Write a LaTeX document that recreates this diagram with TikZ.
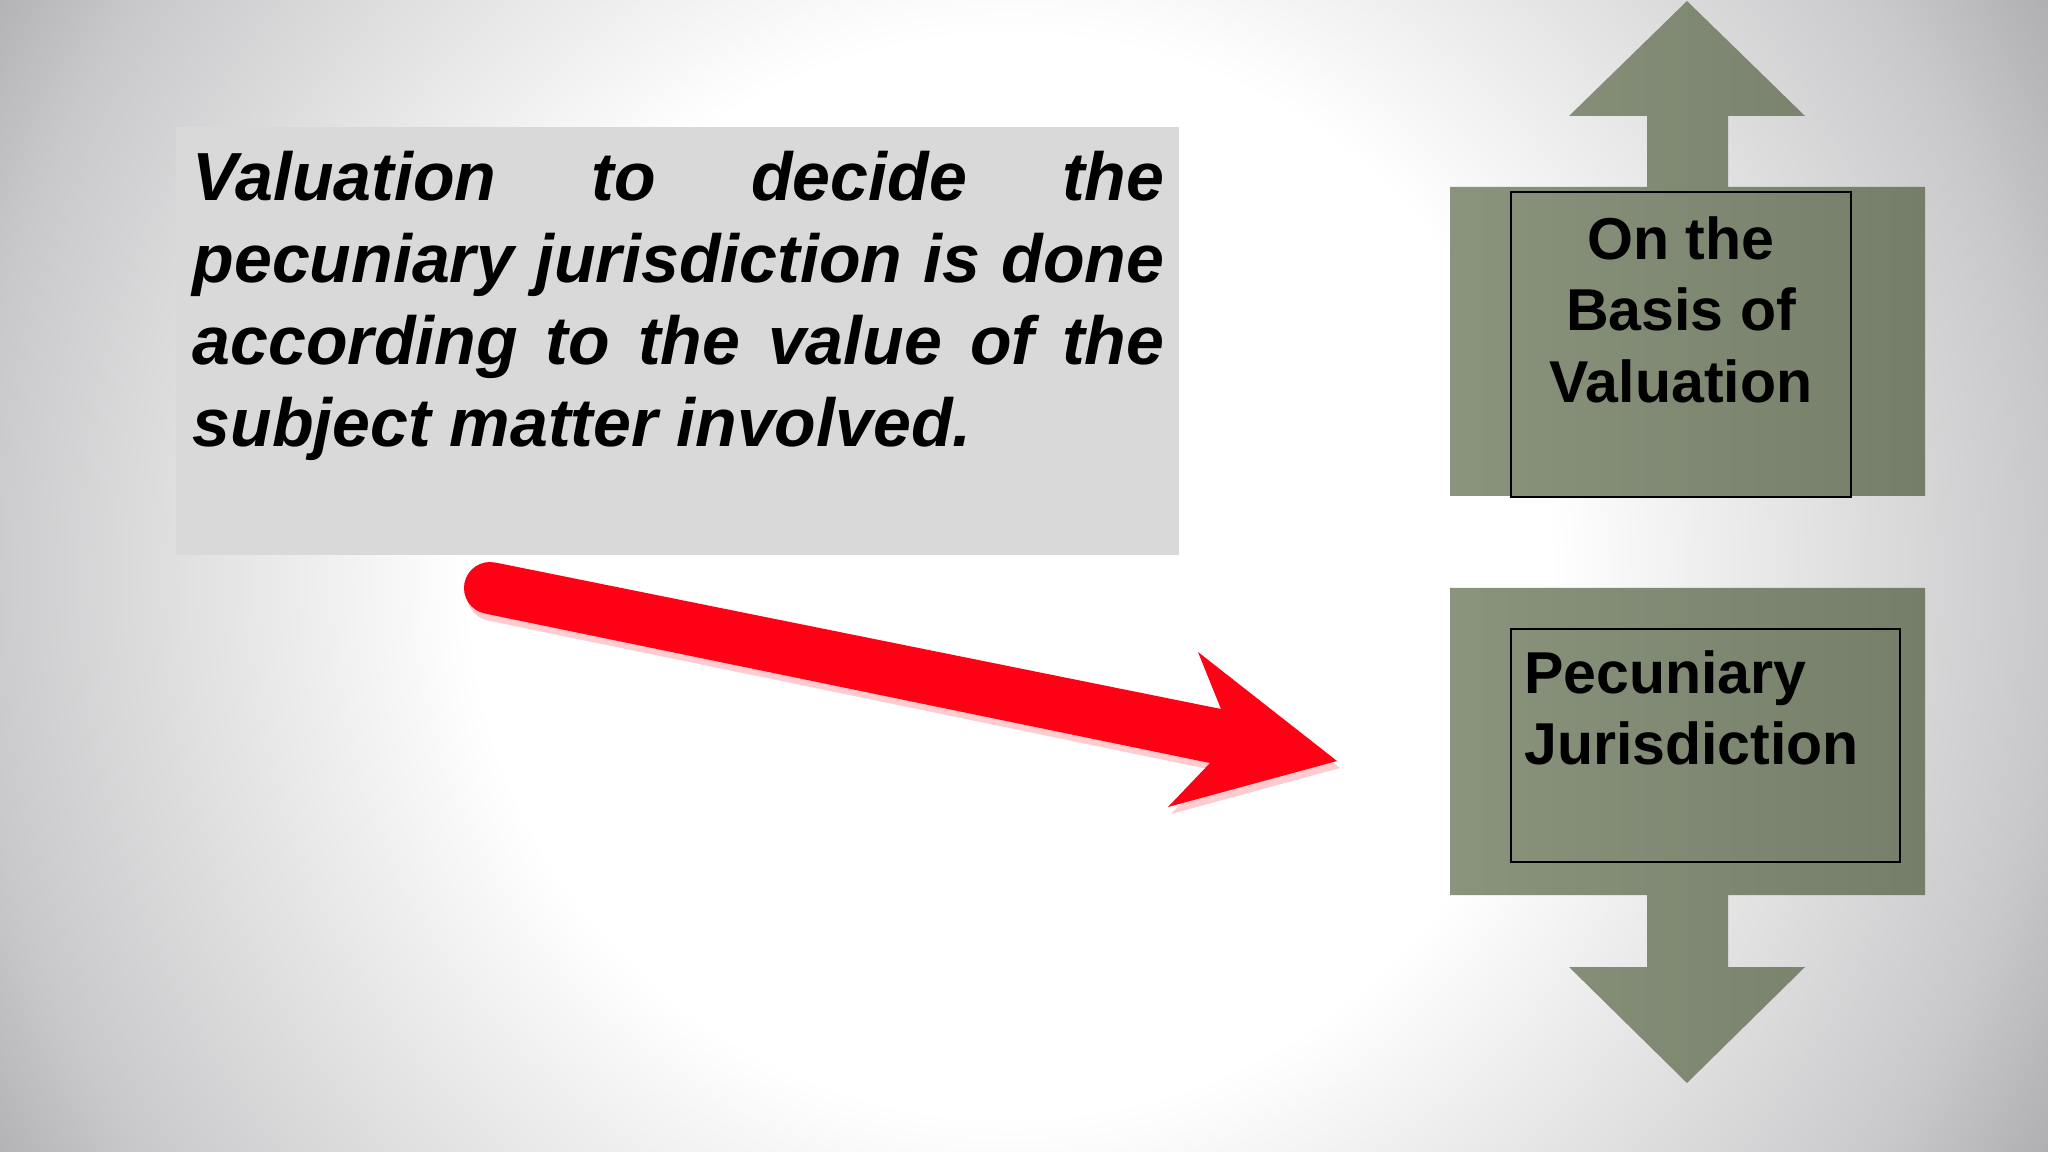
\documentclass[tikz,border=0pt]{standalone}
\usepackage{fontspec}
\setmainfont{Liberation Sans}
\usetikzlibrary{positioning,calc}

\definecolor{bgmid}{HTML}{C9C9CB}
\definecolor{bgedge}{HTML}{ADADB0}
\definecolor{panelgray}{HTML}{D9D9D9}
\definecolor{olivelight}{HTML}{8A947D}
\definecolor{olivedark}{HTML}{757E68}
\definecolor{arrowred}{HTML}{FF0014}
\pgfdeclareradialshading{slidebg}{\pgfpoint{0bp}{0bp}}{color(0bp)=(white); color(27bp)=(white); color(52bp)=(bgmid); color(60bp)=(bgedge)}
\hyphenpenalty=10000
\tolerance=10000
\hbadness=10000

\begin{document}
\begin{tikzpicture}[x=0.01cm,y=-0.01cm,
  framebox/.style={draw=black,line width=0.5pt,inner sep=0,anchor=north west},
  boxlabel/.style={inner sep=0,font=\bfseries\fontsize{16.8pt}{20.3pt}\selectfont},
  redarrow/.style={fill=arrowred,preaction={fill=arrowred!40,opacity=.5,transform canvas={shift={(3,7)}}}}]
\useasboundingbox (0,0) rectangle (2048,1152);
% slide background, 1bp of the shading = 20 units
\begin{scope}
\clip (0,0) rectangle (2048,1152);
\pgftransformshift{\pgfpointxy{1010}{576}}
\pgftransformscale{5.669}
\pgflowlevelsynccm
\pgfuseshading{slidebg}
\end{scope}
% text panel
\node[fill=panelgray,minimum width=10.03cm,minimum height=4.28cm,inner sep=0,anchor=north west] (panel) at (175,126) {};
\node[below right=0.24cm and 0.17cm of panel.north west,inner sep=0,text width=9.71cm,align=justify,
  font=\bfseries\itshape\fontsize{19.35pt}{23.33pt}\selectfont] (valtext)
  {Valuation to decide the\linebreak pecuniary jurisdiction is done\linebreak according to the value of the\linebreak subject matter involved.};
% upper block with arrow
\shade[left color=olivelight,right color=olivedark] (1450,496) -- (1450,187) -- (1647,187) -- (1647,116) -- (1569,116)
  -- (1687,1) -- (1805,116) -- (1728,116) -- (1728,187) -- (1925,187) -- (1925,496) -- cycle;
\node[framebox,minimum width=3.4cm,minimum height=3.05cm] (basis) at (1510,191) {};
\node[boxlabel,align=center,below=0.25cm of basis.north] (basistext) {On the\\Basis of\\Valuation};
% lower block with arrow
\shade[left color=olivelight,right color=olivedark] (1450,588) -- (1925,588) -- (1925,895) -- (1728,895) -- (1728,967)
  -- (1805,967) -- (1687,1083) -- (1569,967) -- (1647,967) -- (1647,895) -- (1450,895) -- cycle;
\node[framebox,minimum width=3.89cm,minimum height=2.33cm] (pecbox) at (1510,628) {};
\node[boxlabel,align=left,below right=0.22cm and 0.135cm of pecbox.north west] (pectext) {Pecuniary\\Jurisdiction};
% red arrow
\coordinate (tail) at (490,588);
\coordinate (tip) at (1337,761);
\fill[redarrow] ($(tail)+(5.2,-25.5)$) -- (1221,709) -- (1198,652) -- (tip) -- (1168,807) -- (1210,763)
  -- ($(tail)+(-5.2,25.5)$) arc[start angle=101.5,end angle=281.5,radius=26] -- cycle;
\end{tikzpicture}
\end{document}
